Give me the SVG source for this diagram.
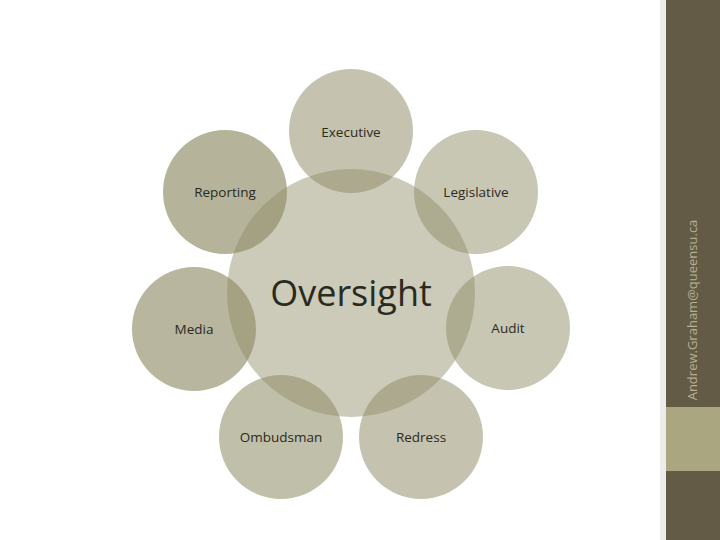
<svg xmlns="http://www.w3.org/2000/svg" width="720" height="540" viewBox="0 0 720 540">
<style>
.c{fill:#8f8c66}
.lbl{font-family:"Open Sans","Liberation Sans",sans-serif;font-size:13.5px;fill:#2b2a1e;text-anchor:middle}
.big{font-family:"Open Sans","Liberation Sans",sans-serif;font-size:36px;fill:#2b2a1e;text-anchor:middle}
</style>
<rect width="720" height="540" fill="#ffffff"/>
<rect x="660" y="0" width="6" height="540" fill="#ececec"/>
<rect x="666" y="0" width="54" height="540" fill="#635b45"/>
<rect x="666" y="407" width="54" height="64" fill="#a9a680"/>
<text transform="translate(697,310) rotate(-90)" font-family="'Open Sans','Liberation Sans',sans-serif" font-size="13" fill="#b5b094" text-anchor="middle">Andrew.Graham@queensu.ca</text>
<g id="node-executive"><circle class="c" cx="351" cy="131" r="62" opacity="0.52"/><text class="lbl" x="351" y="137">Executive</text></g>
<g id="node-reporting"><circle class="c" cx="225" cy="192" r="62" opacity="0.66"/><text class="lbl" x="225" y="197">Reporting</text></g>
<g id="node-legislative"><circle class="c" cx="476" cy="192" r="62" opacity="0.49"/><text class="lbl" x="476" y="197">Legislative</text></g>
<g id="node-media"><circle class="c" cx="194" cy="329" r="62" opacity="0.63"/><text class="lbl" x="194" y="334">Media</text></g>
<g id="node-audit"><circle class="c" cx="508" cy="328" r="62" opacity="0.49"/><text class="lbl" x="508" y="333">Audit</text></g>
<g id="node-ombudsman"><circle class="c" cx="281" cy="437" r="62" opacity="0.56"/><text class="lbl" x="281" y="442">Ombudsman</text></g>
<g id="node-redress"><circle class="c" cx="421" cy="437" r="62" opacity="0.52"/><text class="lbl" x="421" y="442">Redress</text></g>
<g id="node-oversight"><circle class="c" cx="351" cy="293" r="124" opacity="0.46"/><text class="big" x="351" y="306">Oversight</text></g>
<g id="connectors"></g>
</svg>
